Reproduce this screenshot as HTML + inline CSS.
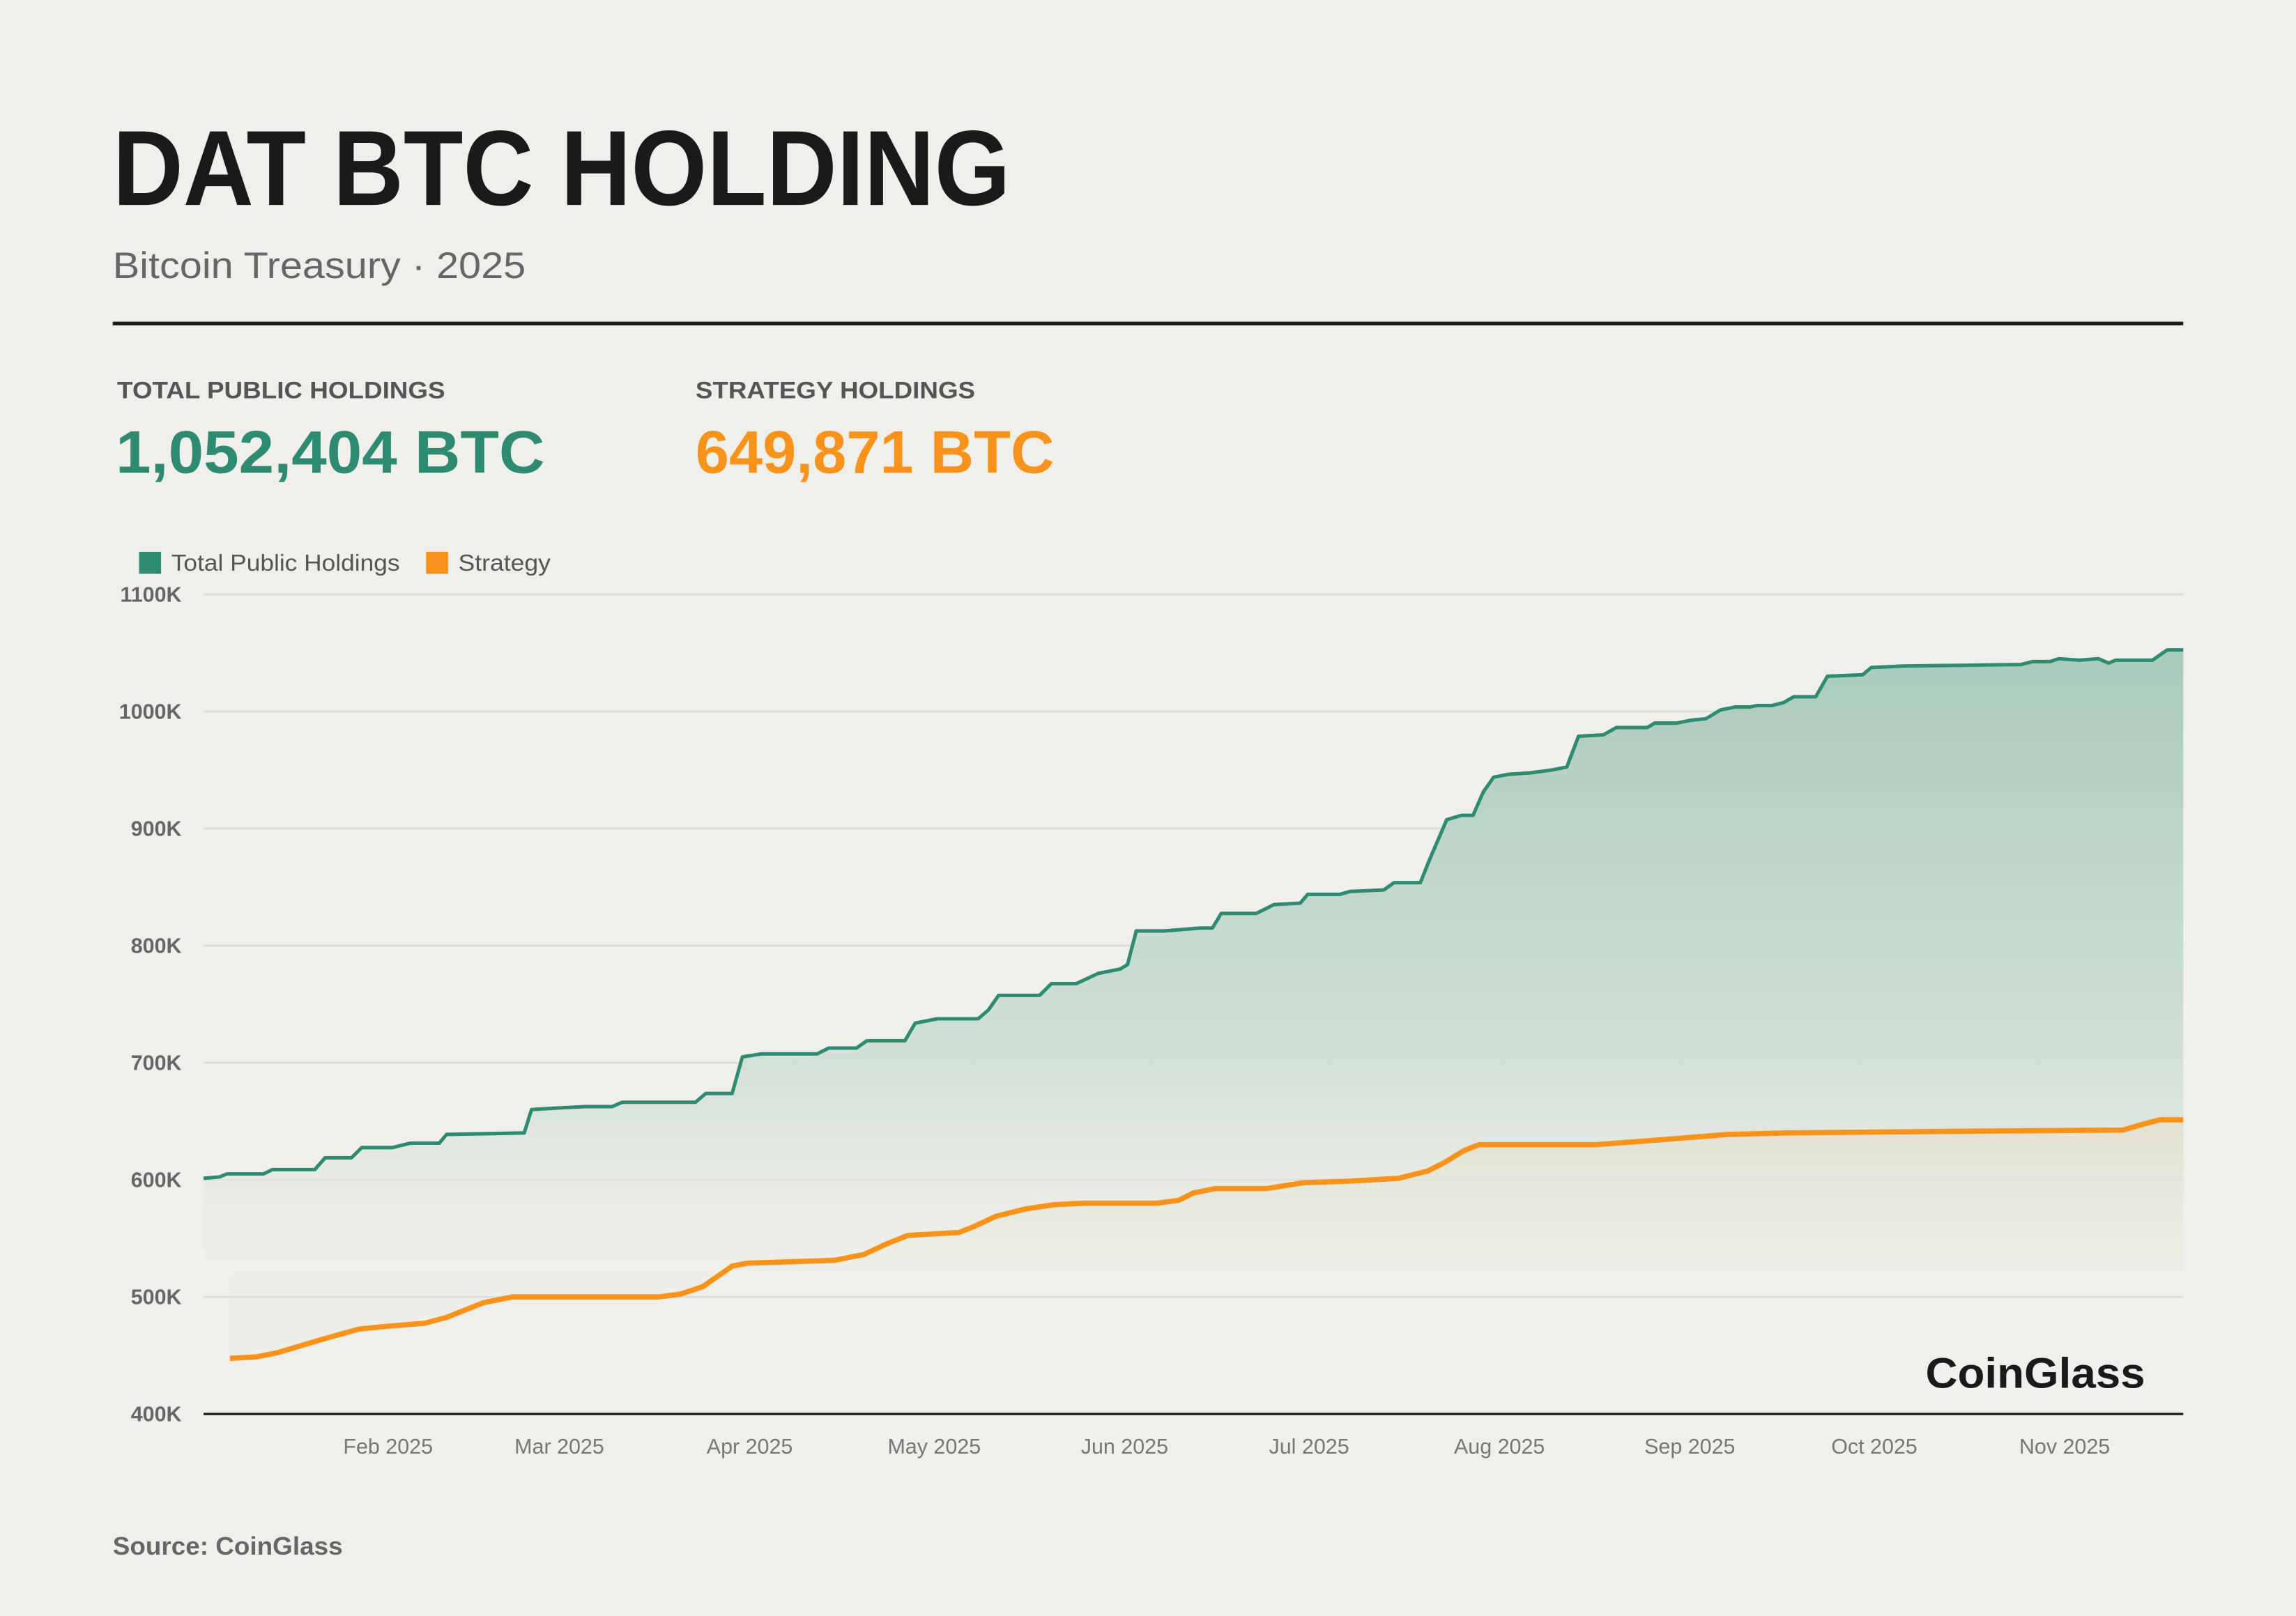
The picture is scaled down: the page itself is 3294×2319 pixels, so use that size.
<!DOCTYPE html>
<html><head><meta charset="utf-8"><style>
html,body{margin:0;padding:0;background:#f0efea;}
svg{display:block;}
text{font-family:"Liberation Sans","DejaVu Sans",sans-serif;}
</style></head><body>
<svg width="3294" height="2319" viewBox="0 0 1568 1104" preserveAspectRatio="none" xmlns="http://www.w3.org/2000/svg">
<defs>
<linearGradient id="gg" x1="0" y1="443" x2="0" y2="870" gradientUnits="userSpaceOnUse">
<stop offset="0" stop-color="#a9cbbc"/>
<stop offset="0.7" stop-color="#d5e2d9"/>
<stop offset="1" stop-color="#e9ece5" stop-opacity="0"/>
</linearGradient>
<linearGradient id="og" x1="0" y1="766" x2="0" y2="870" gradientUnits="userSpaceOnUse">
<stop offset="0" stop-color="#e3e0cf"/>
<stop offset="1" stop-color="#ecebe0" stop-opacity="0.2"/>
</linearGradient>
</defs>
<rect width="1568" height="1104" fill="#f0efea"/>
<text x="77" y="140" font-size="73" font-weight="900" fill="#1a1a1a" textLength="613" lengthAdjust="spacingAndGlyphs">DAT BTC HOLDING</text>
<text x="77" y="190" font-size="25" fill="#666" textLength="282" lengthAdjust="spacingAndGlyphs">Bitcoin Treasury · 2025</text>
<line x1="77" y1="221" x2="1491" y2="221" stroke="#1a1a1a" stroke-width="2.5"/>
<text x="80" y="272" font-size="16.5" font-weight="bold" fill="#555" textLength="224" lengthAdjust="spacingAndGlyphs">TOTAL PUBLIC HOLDINGS</text>
<text x="475" y="272" font-size="16.5" font-weight="bold" fill="#555" textLength="191" lengthAdjust="spacingAndGlyphs">STRATEGY HOLDINGS</text>
<text x="79" y="323" font-size="41" font-weight="900" fill="#2e8b72" textLength="293" lengthAdjust="spacingAndGlyphs">1,052,404 BTC</text>
<text x="475" y="323" font-size="41" font-weight="900" fill="#f7931a" textLength="245" lengthAdjust="spacingAndGlyphs">649,871 BTC</text>
<rect x="95" y="377" width="15" height="15" fill="#2e8b72"/>
<text x="117" y="390" font-size="16" fill="#555" textLength="156" lengthAdjust="spacingAndGlyphs">Total Public Holdings</text>
<rect x="291" y="377" width="15" height="15" fill="#f7931a"/>
<text x="313" y="390" font-size="16" fill="#555" textLength="63" lengthAdjust="spacingAndGlyphs">Strategy</text>
<g stroke="#dcdbd6" stroke-width="1.2">
<line x1="139" y1="406" x2="1491" y2="406"/><line x1="139" y1="486" x2="1491" y2="486"/>
<line x1="139" y1="566" x2="1491" y2="566"/><line x1="139" y1="646" x2="1491" y2="646"/>
<line x1="139" y1="726" x2="1491" y2="726"/><line x1="139" y1="806" x2="1491" y2="806"/>
<line x1="139" y1="886" x2="1491" y2="886"/>
</g>
<g font-size="14.5" font-weight="bold" fill="#666" text-anchor="end">
<text x="124" y="411">1100K</text><text x="124" y="491">1000K</text><text x="124" y="571">900K</text>
<text x="124" y="651">800K</text><text x="124" y="731">700K</text><text x="124" y="811">600K</text>
<text x="124" y="891">500K</text><text x="124" y="971">400K</text>
</g>
<path fill="url(#gg)" d="M139,805 L150,804 L155,802 L180,802 L186,799 L215,799 L222,791 L240,791 L247,784 L268,784 L280,781 L300,781 L305,775 L358,774 L363,758 L380,757 L400,756 L418,756 L425,753 L475,753 L482,747 L500,747 L507,722 L520,720 L558,720 L566,716 L585,716 L592,711 L618,711 L625,699 L640,696 L668,696 L675,690 L682,680 L710,680 L718,672 L735,672 L750,665 L765,662 L770,659 L776,636 L795,636 L820,634 L828,634 L834,624 L858,624 L870,618 L888,617 L893,611 L915,611 L922,609 L945,608 L952,603 L970,603 L976,588 L988,560 L998,557 L1006,557 L1013,541 L1020,531 L1030,529 L1045,528 L1060,526 L1070,524 L1078,503 L1095,502 L1104,497 L1125,497 L1130,494 L1145,494 L1155,492 L1165,491 L1175,485 L1185,483 L1195,483 L1200,482 L1210,482 L1218,480 L1225,476 L1240,476 L1248,462 L1272,461 L1278,456 L1300,455 L1380,454 L1388,452 L1400,452 L1406,450 L1420,451 L1433,450 L1440,453 L1445,451 L1470,451 L1480,444 L1491,444 L1491,870 L139,870 Z"/>
<path fill="url(#og)" d="M157,928 L175,927 L190,924 L220,915 L245,908 L265,906 L290,904 L305,900 L330,890 L350,886 L450,886 L465,884 L480,879 L490,872 L500,865 L510,863 L540,862 L570,861 L590,857 L605,850 L620,844 L655,842 L665,838 L680,831 L700,826 L720,823 L740,822 L790,822 L805,820 L815,815 L830,812 L865,812 L890,808 L920,807 L955,805 L975,800 L985,795 L1000,786 L1010,782 L1090,782 L1130,779 L1180,775 L1220,774 L1320,773 L1450,772 L1460,769 L1475,765 L1491,765 L1491,870 L157,870 Z" opacity="0.9"/>
<path fill="none" stroke="#2e8b72" stroke-width="2.4" stroke-linejoin="round" d="M139,805 L150,804 L155,802 L180,802 L186,799 L215,799 L222,791 L240,791 L247,784 L268,784 L280,781 L300,781 L305,775 L358,774 L363,758 L380,757 L400,756 L418,756 L425,753 L475,753 L482,747 L500,747 L507,722 L520,720 L558,720 L566,716 L585,716 L592,711 L618,711 L625,699 L640,696 L668,696 L675,690 L682,680 L710,680 L718,672 L735,672 L750,665 L765,662 L770,659 L776,636 L795,636 L820,634 L828,634 L834,624 L858,624 L870,618 L888,617 L893,611 L915,611 L922,609 L945,608 L952,603 L970,603 L976,588 L988,560 L998,557 L1006,557 L1013,541 L1020,531 L1030,529 L1045,528 L1060,526 L1070,524 L1078,503 L1095,502 L1104,497 L1125,497 L1130,494 L1145,494 L1155,492 L1165,491 L1175,485 L1185,483 L1195,483 L1200,482 L1210,482 L1218,480 L1225,476 L1240,476 L1248,462 L1272,461 L1278,456 L1300,455 L1380,454 L1388,452 L1400,452 L1406,450 L1420,451 L1433,450 L1440,453 L1445,451 L1470,451 L1480,444 L1491,444"/>
<path fill="none" stroke="#f7931a" stroke-width="3.6" stroke-linejoin="round" d="M157,928 L175,927 L190,924 L220,915 L245,908 L265,906 L290,904 L305,900 L330,890 L350,886 L450,886 L465,884 L480,879 L490,872 L500,865 L510,863 L540,862 L570,861 L590,857 L605,850 L620,844 L655,842 L665,838 L680,831 L700,826 L720,823 L740,822 L790,822 L805,820 L815,815 L830,812 L865,812 L890,808 L920,807 L955,805 L975,800 L985,795 L1000,786 L1010,782 L1090,782 L1130,779 L1180,775 L1220,774 L1320,773 L1450,772 L1460,769 L1475,765 L1491,765"/>
<line x1="139" y1="966" x2="1491" y2="966" stroke="#1a1a1a" stroke-width="1.6"/>
<g font-size="14.5" fill="#777" text-anchor="middle">
<text x="265" y="993">Feb 2025</text><text x="382" y="993">Mar 2025</text><text x="512" y="993">Apr 2025</text>
<text x="638" y="993">May 2025</text><text x="768" y="993">Jun 2025</text><text x="894" y="993">Jul 2025</text>
<text x="1024" y="993">Aug 2025</text><text x="1154" y="993">Sep 2025</text><text x="1280" y="993">Oct 2025</text>
<text x="1410" y="993">Nov 2025</text>
</g>
<text x="1315" y="948" font-size="29" font-weight="900" fill="#1a1a1a" textLength="150" lengthAdjust="spacingAndGlyphs">CoinGlass</text>
<text x="77" y="1062" font-size="17" font-weight="bold" fill="#666" textLength="157" lengthAdjust="spacingAndGlyphs">Source: CoinGlass</text>
</svg>
</body></html>
